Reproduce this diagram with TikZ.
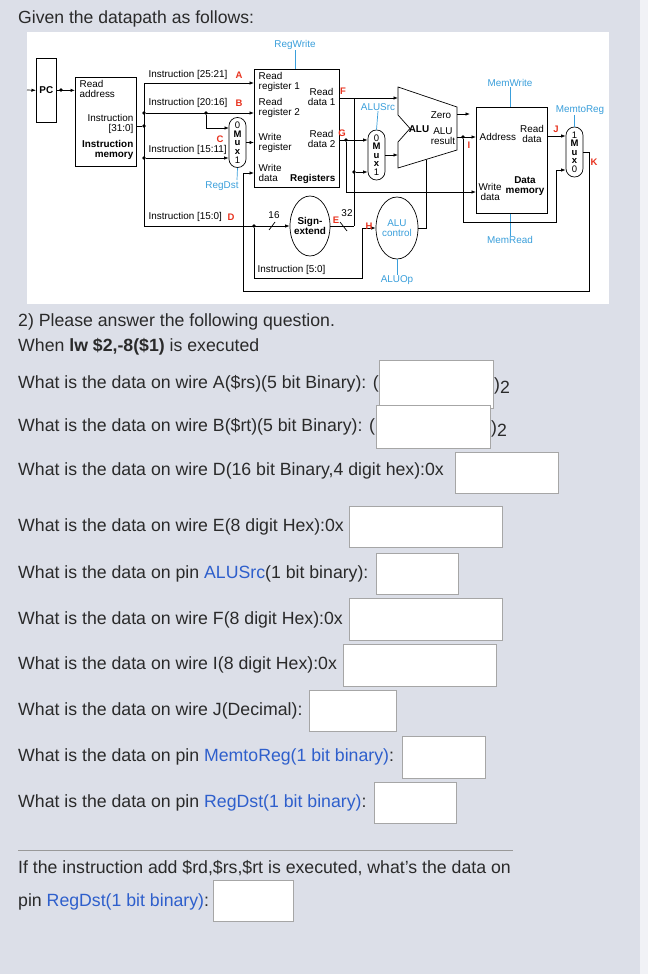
\documentclass[tikz,border=0pt]{standalone}
\usepackage{fontspec}
\setmainfont{Liberation Sans}
\usetikzlibrary{arrows.meta,shapes.geometric}
\definecolor{bg}{HTML}{DCDFE8}
\definecolor{ctl}{HTML}{3A9FDB}
\definecolor{qblue}{HTML}{2E5FCC}
\definecolor{wred}{HTML}{E8321E}
\definecolor{txt}{HTML}{2A2A2A}
\tikzset{
 w/.style={draw=black,line width=0.7pt},
 arr/.style={w,-{Latex[length=4.5pt,width=3.4pt]}},
 dot/.style={circle,fill=black,inner sep=1.4pt},
 lbl/.style={font=\fontsize{9.9}{9.5}\selectfont,inner sep=0.5pt,align=left},
 lblc/.style={lbl,align=center},
 bl/.style={lbl,font=\fontsize{9.9}{9.5}\selectfont\bfseries},
 ctlt/.style={lbl,text=ctl},
 redl/.style={font=\fontsize{9.5}{9}\selectfont\bfseries,text=wred,inner sep=0.5pt},
 muxbox/.style={w,rounded corners=8.4pt,minimum width=17pt,minimum height=50pt,inner sep=0pt,align=center,font=\fontsize{9.5}{8.6}\selectfont},
 q/.style={anchor=west,inner sep=0pt,text=txt,font=\fontsize{17.7}{20}\selectfont},
 ansbox/.style={draw=gray!70,line width=1pt,fill=white,anchor=north west,inner sep=0pt},
}
\begin{document}
\begin{tikzpicture}[x=1pt,y=-1pt]
\fill[bg] (0,0) rectangle (648,974);
\fill[white!60!bg] (640,0) rectangle (648,974);
\useasboundingbox (0,0) rectangle (648,974);
\node[q,font=\fontsize{17.6}{20}\selectfont] (title) at (18,19) {Given the datapath as follows:};
\fill[white] (27,32) rectangle (609,304);

% blocks
\node[w,minimum width=20pt,minimum height=64pt,anchor=north west,inner sep=0pt] (pc) at (36,58) {};
\node[bl] at (pc.center) {PC};
\node[w,minimum width=61pt,minimum height=89pt,anchor=north west] (im) at (75,77) {};
\node[lbl,anchor=north west] (imra) at (79,80) {Read\\address};
\node[lbl,align=right,anchor=east] (imins) at (134,124) {Instruction\\{}[31:0]};
\node[bl,align=right,anchor=east] (immem) at (134,150) {Instruction\\memory};

\node[w,minimum width=85pt,minimum height=118pt,anchor=north west] (rf) at (254,69) {};
\node[lbl,anchor=north west] (rr1) at (258,72) {Read\\register 1};
\node[lbl,anchor=north west] (rr2) at (258,98) {Read\\register 2};
\node[lbl,anchor=north west] (wr) at (258,133) {Write\\register};
\node[lbl,anchor=north west] (wd) at (258,164) {Write\\data};
\node[bl,anchor=north east] (regs) at (336,174) {Registers};
\node[lblc,anchor=north east] (rd1) at (336,88) {Read\\data 1};
\node[lblc,anchor=north east] (rd2) at (336,130) {Read\\data 2};

\node[muxbox] (mux1) at (237.5,142.5) {0\\\textbf{M}\\\textbf{u}\\\textbf{x}\\1};
\node[muxbox] (mux2) at (376.5,155) {0\\\textbf{M}\\\textbf{u}\\\textbf{x}\\1};
\node[muxbox] (mux3) at (574.5,152) {1\\\textbf{M}\\\textbf{u}\\\textbf{x}\\0};

\node[w,ellipse,minimum width=40pt,minimum height=60pt,inner sep=0pt] (se) at (310,226) {};
\node[bl,align=center] at (se.center) {Sign-\\extend};
\node[w,ellipse,minimum width=42pt,minimum height=62pt,inner sep=0pt] (aluc) at (397,228) {};
\node[ctlt,align=center] at (aluc.center) {ALU\\control};

\draw[w] (398,87) coordinate (aluTL) -- (457,107) -- (457,150) -- (398,168) coordinate (aluBL) -- (398,142) -- (410,128.5) -- (398,115) -- cycle;
\node[bl] (alut) at (419,129) {ALU};
\node[lbl] (zero) at (441,115) {Zero};
\node[lblc] (alur) at (443,136) {ALU\\result};

\node[w,minimum width=71pt,minimum height=106pt,anchor=north west] (dm) at (476,107) {};
\node[lbl,anchor=west] (addr) at (479,137) {Address};
\node[lblc] (rdd) at (532,134) {Read\\data};
\node[lblc,anchor=west] (wdd) at (478,192) {Write\\data};
\node[bl,align=center] (dmem) at (525,186) {Data\\memory};

% control labels
\node[ctlt] (regwrite) at (295,45) {RegWrite};
\node[ctlt] (regdst) at (222,186) {RegDst};
\node[ctlt] (alusrc) at (378,107) {ALUSrc};
\node[ctlt] (aluop) at (397,280) {ALUOp};
\node[ctlt] (memwrite) at (510,83) {MemWrite};
\node[ctlt] (memread) at (510,240) {MemRead};
\node[ctlt] (memtoreg) at (580,110) {MemtoReg};
\draw[ctl,line width=0.7pt] (regwrite.south) -- (rf.north -| regwrite.south);
\draw[ctl,line width=0.7pt] (mux1.south) -- (237,180);
\draw[ctl,line width=0.7pt] (alusrc.south) -- (mux2.north);
\draw[ctl,line width=0.7pt] (aluc.south) -- (aluop.north);
\draw[ctl,line width=0.7pt] (memwrite.south) -- (dm.north -| memwrite.south);
\draw[ctl,line width=0.7pt] (dm.south -| memread.north) -- (memread.north);
\draw[ctl,line width=0.7pt] (memtoreg.south -| mux3.north) -- (mux3.north);

% wires
\coordinate (pcin) at (27,90);
\draw[arr] (pcin) -- (pc.west);
\draw[arr] (pc.east) -- (pc.east -| im.west);
\node[dot] (d0) at (61,90) {};
\coordinate (jA) at (144,83);
\node[dot] (j1) at (144,113) {};
\node[dot] (j2) at (144,126) {};
\node[dot] (j3) at (144,158) {};
\coordinate (jD) at (144,226);
\draw[w] (im.east |- j2) -- (j2);
\draw[w] (jA) -- (jD);
\draw[arr] (jA) -- (jA -| rf.west);
\draw[arr] (j1) -- (j1 -| rf.west);
\node[dot] (jB) at (206,113) {};
\draw[arr] (jB) |- (229,128);
\draw[arr] (j3) -- (j3 -| mux1.west);
\draw[arr] (mux1.east) -- (mux1.east -| rf.west);
\node[lbl,anchor=west] (i1) at (148,75) {Instruction [25:21]};
\node[redl] (lA) at (239,75) {A};
\node[lbl,anchor=west] (i2) at (148,103) {Instruction [20:16]};
\node[redl] (lB) at (239,103) {B};
\node[lbl,anchor=west] (i3) at (148,150) {Instruction [15:11]};
\node[redl] (lC) at (220,139) {C};
\node[lbl,anchor=west] (i4) at (148,217) {Instruction [15:0]};
\node[redl] (lD) at (231,217) {D};
\draw[arr] (jD) -- (se.west);
\node[dot] (jE) at (254,226) {};
\draw[w] (269,230) -- (275,222);
\node[lbl] (n16) at (274,215) {16};
\draw[arr] (jE) -- (254,278) -- (362,278) -- (362,228) -- (aluc.west);
\node[lbl,anchor=west] (i5) at (257,270) {Instruction [5:0]};
\node[redl] (lH) at (369,226) {H};
\draw[w] (aluc.east) -- (426,228) -- (426,159.5);
\draw[arr] (mux3.east) -- (589,152) -- (589,291) -- (243,291) -- (243,173) -- (rf.west |- 0,173);
\draw[w] (se.east) -- (354,226);
\draw[w] (354,98) -- (354,226);
\node[dot] (jS) at (354,172) {};
\draw[arr] (jS) -- (jS -| mux2.west);
\draw[w] (340,222) -- (347,231);
\node[redl] (lE) at (336,220) {E};
\node[lbl] (n32) at (347,213) {32};
\draw[arr] (rf.east |- 0,98) -- (aluTL |- 0,98);
\node[redl] (lF) at (343,91) {F};
\draw[arr] (rf.east |- 0,140) -- (mux2.west |- 0,140);
\node[dot] (jG) at (346,140) {};
\node[redl] (lG) at (342,133) {G};
\draw[arr] (jG) -- (346,192) -- (dm.west |- 0,192);
\draw[arr] (mux2.east) -- (398,155);
\draw[arr] (457,114) -- (470,114);
\draw[arr] (457,137) -- (dm.west |- 0,137);
\node[dot] (jI) at (463,137) {};
\node[redl] (lI) at (469,145) {I};
\draw[arr] (jI) -- (463,222) -- (556,222) -- (556,170) -- (mux3.west |- 0,170);
\draw[arr] (dm.east |- 0,136) -- (mux3.west |- 0,136);
\node[redl] (lJ) at (556,129) {J};
\node[redl] (lK) at (594,162) {K};

% questions
\node[q] (q0) at (18,322) {2) Please answer the following question.};
\node[q] (q1) at (18,347) {When \textbf{lw \$2,-8(\$1)} is executed};
\node[q] (qA) at (18,384) {What is the data on wire A(\$rs)(5 bit Binary): (};
\node[ansbox,minimum width=114pt,minimum height=48pt] (bA) at (379,360) {};
\node[q] (qA2) at (494,386) {)\raisebox{-3pt}{2}};
\node[q] (qB) at (18,427) {What is the data on wire B(\$rt)(5 bit Binary): (};
\node[ansbox,minimum width=114pt,minimum height=43pt] (bB) at (376,405) {};
\node[q] (qB2) at (491,429) {)\raisebox{-3pt}{2}};
\node[q] (qD) at (18,471) {What is the data on wire D(16 bit Binary,4 digit hex):0x};
\node[ansbox,minimum width=103pt,minimum height=41pt] (bD) at (455,452) {};
\node[q] (qE) at (18,527) {What is the data on wire E(8 digit Hex):0x};
\node[ansbox,minimum width=153pt,minimum height=41pt] (bE) at (349,506) {};
\node[q] (qS) at (18,574) {What is the data on pin \textcolor{qblue}{ALUSrc}(1 bit binary):};
\node[ansbox,minimum width=82pt,minimum height=41pt] (bS) at (376,553) {};
\node[q] (qF) at (18,620) {What is the data on wire F(8 digit Hex):0x};
\node[ansbox,minimum width=153pt,minimum height=42pt] (bF) at (349,598) {};
\node[q] (qI) at (18,665) {What is the data on wire I(8 digit Hex):0x};
\node[ansbox,minimum width=153pt,minimum height=42pt] (bI) at (343,644) {};
\node[q] (qJ) at (18,711) {What is the data on wire J(Decimal):};
\node[ansbox,minimum width=87pt,minimum height=41pt] (bJ) at (309,690) {};
\node[q] (qM) at (18,757) {What is the data on pin \textcolor{qblue}{MemtoReg(1 bit binary)}:};
\node[ansbox,minimum width=83pt,minimum height=42pt] (bM) at (402,736) {};
\node[q] (qR) at (18,803) {What is the data on pin \textcolor{qblue}{RegDst(1 bit binary)}:};
\node[ansbox,minimum width=82pt,minimum height=41pt] (bR) at (374,782) {};
\draw[gray!80,line width=0.8pt] (18,850) coordinate (hl1) -- (513,850) coordinate (hl2);
\node[q] (qL1) at (18,868) {If the instruction add \$rd,\$rs,\$rt is executed, what's the data on};
\node[q] (qL2) at (18,902) {pin \textcolor{qblue}{RegDst(1 bit binary)}:};
\node[ansbox,minimum width=80pt,minimum height=41pt] (bL) at (213,880) {};
\end{tikzpicture}
\end{document}
